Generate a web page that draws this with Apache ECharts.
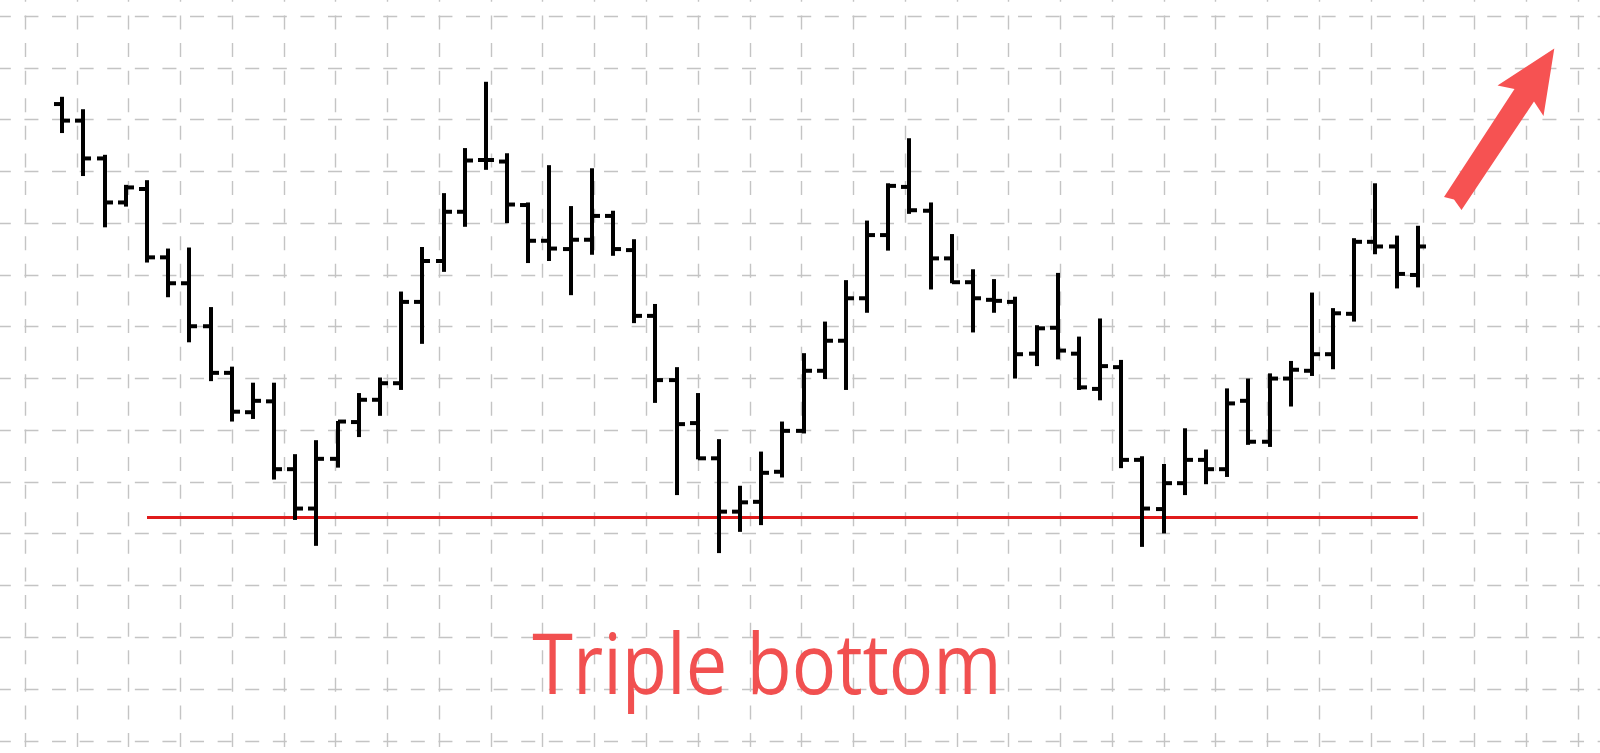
<!DOCTYPE html>
<html>
<head>
<meta charset="utf-8">
<script src="https://cdn.jsdelivr.net/npm/echarts@6/dist/echarts.min.js"></script>
<style>
html,body{margin:0;padding:0;background:#fff;}
#chart{width:1600px;height:753px;}
</style>
</head>
<body>
<div id="chart"></div>
<script>
// ---- data ----
const openValues  = [123.0,119.8,112.5,104.0,106.6,93.4,88.4,80.1,71.1,63.5,65.6,52.5,44.9,54.5,61.6,65.9,69.1,84.8,92.7,102.2,112.2,111.9,103.5,96.6,95.0,96.8,101.4,94.8,82.1,69.7,61.4,54.6,44.3,46.2,52.0,59.9,71.5,77.3,85.5,97.7,107.0,102.4,93.2,88.6,85.2,84.8,74.8,79.8,74.8,68.0,72.2,54.3,44.8,49.8,54.3,52.5,65.7,57.8,70.0,71.5,74.7,82.5,96.4,95.5,90.0];
const highValues  = [124.4,122.0,113.2,107.4,108.3,95.1,95.3,83.8,72.3,69.2,69.2,55.4,58.1,61.8,67.2,70.2,86.8,95.4,105.8,114.5,127.3,113.5,104.0,111.2,103.3,110.6,102.4,96.9,84.4,72.2,67.2,58.3,49.3,55.9,61.7,74.9,81.0,89.0,100.5,107.7,116.4,104.0,97.9,91.1,89.2,85.8,80.3,90.4,78.1,81.6,73.6,55.0,53.5,60.4,56.3,68.1,70.0,71.0,73.4,86.6,83.6,97.1,107.7,97.6,99.5];
const lowValues   = [117.4,109.1,99.2,103.2,92.4,85.7,77.0,69.5,61.7,62.2,50.5,42.7,37.7,52.8,58.7,62.8,67.8,76.7,90.6,99.3,110.3,100.0,92.3,92.7,86.1,93.9,93.7,80.7,65.3,47.5,54.4,36.3,40.4,41.7,50.9,59.4,69.9,67.8,82.7,94.7,101.8,87.2,88.4,78.9,82.7,70.0,72.4,73.7,67.8,65.8,52.7,37.5,40.1,47.5,49.6,51.0,57.2,56.8,64.6,70.5,71.8,81.0,94.0,87.4,87.6];
const closeValues = [119.8,112.5,104.0,106.9,93.4,88.4,80.1,71.1,63.6,65.7,52.5,44.9,54.5,61.7,65.9,69.1,84.8,92.7,102.2,112.1,112.2,103.6,96.6,95.1,96.8,101.4,95.0,82.1,69.7,61.2,54.6,44.3,46.1,51.8,59.9,71.5,77.3,85.5,97.7,107.2,102.5,93.2,88.6,85.5,85.0,74.7,79.7,75.4,68.3,72.4,54.3,44.9,49.8,54.3,52.5,65.2,57.8,70.0,71.7,74.7,82.6,96.4,95.5,90.2,95.5];
const categories = openValues.map((_, i) => String(i + 1));
const supportLevel = 43.2;
const supportFrom = 4;   // category index where the support line starts
const supportTo = 64;    // category index where it ends
const titleText = 'Triple bottom';

// ---- chart ----
const chart = echarts.init(document.getElementById('chart'), null, {renderer: 'canvas'});
const ohlc = categories.map((c, i) => [i, openValues[i], highValues[i], lowValues[i], closeValues[i]]);

const CELL = 51.77;
const gridLine = {show: true, lineStyle: {color: '#c4c4c4', width: 1.4, type: [14, 13.6], dashOffset: 4}};

function renderBar(params, api) {
  const i = api.value(0);
  const o = api.coord([i, api.value(1)]);
  const h = api.coord([i, api.value(2)]);
  const l = api.coord([i, api.value(3)]);
  const c = api.coord([i, api.value(4)]);
  const x = Math.round(o[0]);
  const st = {stroke: '#000', lineWidth: 4, lineCap: 'butt', fill: null};
  return {
    type: 'group',
    children: [
      {type: 'line', shape: {x1: x, y1: h[1], x2: x, y2: l[1]}, style: st},
      {type: 'line', shape: {x1: x - 8, y1: o[1], x2: x, y2: o[1]}, style: st},
      {type: 'line', shape: {x1: x, y1: c[1], x2: x + 8, y2: c[1]}, style: st}
    ]
  };
}

const option = {
  backgroundColor: '#ffffff',
  animation: false,
  grid: [
    {left: 25 - CELL, top: 16 - CELL, width: CELL * 33, height: CELL * 16, containLabel: false, outerBoundsMode: 'none'},
    {left: 51.7, top: 16, width: 1376.7, height: 725.1, containLabel: false, outerBoundsMode: 'none'}
  ],
  xAxis: [
    {gridIndex: 0, type: 'value', min: 0, max: 33, interval: 1, axisLine: {show: false}, axisTick: {show: false}, axisLabel: {show: false}, splitLine: gridLine},
    {gridIndex: 1, type: 'category', data: categories, boundaryGap: true, axisLine: {show: false}, axisTick: {show: false}, axisLabel: {show: false}, splitLine: {show: false}}
  ],
  yAxis: [
    {gridIndex: 0, type: 'value', min: 0, max: 16, interval: 1, axisLine: {show: false}, axisTick: {show: false}, axisLabel: {show: false}, splitLine: gridLine},
    {gridIndex: 1, type: 'value', min: 0, max: 140, axisLine: {show: false}, axisTick: {show: false}, axisLabel: {show: false}, splitLine: {show: false}}
  ],
  series: [
    {
      type: 'custom',
      xAxisIndex: 1,
      yAxisIndex: 1,
      renderItem: renderBar,
      encode: {x: 0, y: [1, 2, 3, 4]},
      data: ohlc,
      z: 3,
      markLine: {
        silent: true,
        symbol: ['none', 'none'],
        label: {show: false},
        lineStyle: {color: '#e01b1b', width: 3, type: 'solid'},
        data: [[{coord: [supportFrom, supportLevel]}, {coord: [supportTo, supportLevel]}]],
        z: 2
      }
    }
  ],
  graphic: [
    {
      type: 'polygon',
      z: 10,
      shape: {points: [[1444, 197], [1454, 199.5], [1461.5, 210], [1534, 101.5], [1543.5, 116], [1554.3, 48.5], [1497.5, 85.5], [1514.5, 89]]},
      style: {fill: '#f65252'}
    },
    {
      type: 'text',
      z: 10,
      x: 767,
      y: 670,
      scaleX: 0.88,
      style: {text: titleText, fill: '#f15050', font: '400 84px "Open Sans"', align: 'center', verticalAlign: 'middle'}
    }
  ]
};
chart.setOption(option);
</script>
</body>
</html>
